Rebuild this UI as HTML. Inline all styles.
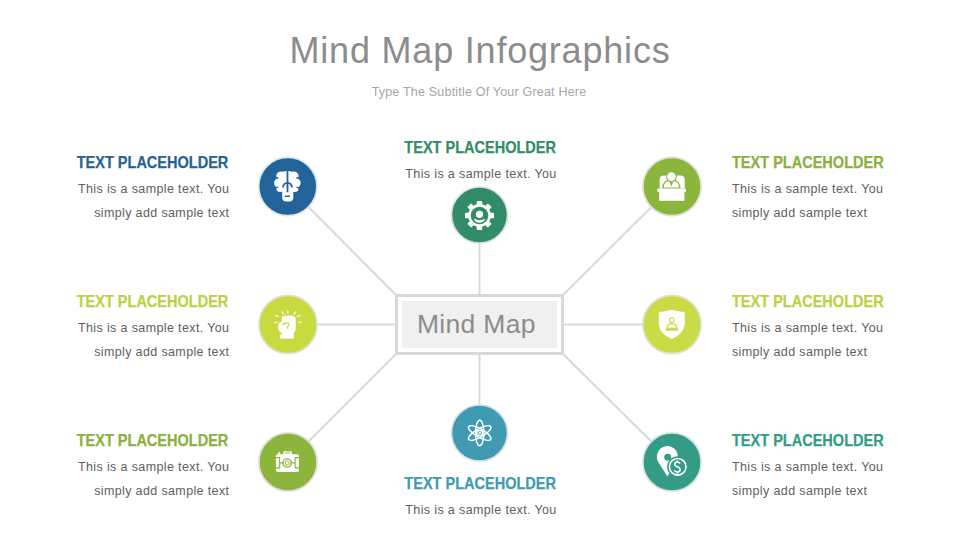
<!DOCTYPE html>
<html><head><meta charset="utf-8">
<style>
html,body{margin:0;padding:0;background:#fff;}
body{width:960px;height:540px;position:relative;overflow:hidden;font-family:"Liberation Sans",sans-serif;}
.abs{position:absolute;white-space:nowrap;}
.title{left:0;width:960px;text-align:center;top:30px;font-size:36px;line-height:42px;color:#8c8c8c;letter-spacing:0.8px;}
.sub{left:-1px;width:960px;text-align:center;top:85px;font-size:12.5px;line-height:14px;color:#a6a6a6;letter-spacing:0.2px;}
.h{font-weight:700;font-size:16.5px;line-height:18px;}
.h span{display:inline-block;transform:scaleX(0.88);-webkit-text-stroke:0.25px currentColor;}
.L span{transform-origin:100% 50%;}
.R span{transform-origin:0 50%;}
.C span{transform-origin:50% 50%;}
.b{font-size:12.5px;line-height:24px;color:#606060;letter-spacing:0.37px;}
.L{text-align:right;width:300px;}
.R{text-align:left;width:300px;}
.C{text-align:center;width:300px;}
svg.lines{position:absolute;left:0;top:0;}
</style></head><body>
<div class="abs title">Mind Map Infographics</div>
<div class="abs sub">Type The Subtitle Of Your Great Here</div>

<svg class="lines" width="960" height="540" viewBox="0 0 960 540">
  <g stroke="#d9d9d9" stroke-width="2" fill="none">
    <line x1="288" y1="186.5" x2="396" y2="295"/>
    <line x1="288" y1="324.5" x2="396" y2="324.5"/>
    <line x1="288" y1="462" x2="396" y2="354"/>
    <line x1="479.5" y1="215" x2="479.5" y2="295"/>
    <line x1="479.5" y1="354" x2="479.5" y2="433"/>
    <line x1="672" y1="186.5" x2="563" y2="295"/>
    <line x1="672" y1="324.5" x2="563" y2="324.5"/>
    <line x1="672" y1="462" x2="563" y2="354"/>
  </g>
  <rect x="396.5" y="295.5" width="166" height="58" fill="#fff" stroke="#d9d9d9" stroke-width="3"/>
  <rect x="402" y="301" width="155" height="47" fill="#f0f0f0"/>
  <g stroke-width="1.7">
    <circle cx="287.8" cy="186.5" r="29.1" fill="#22649a" stroke="#dde4ea"/>
    <circle cx="288" cy="324.5" r="29.1" fill="#c8da40" stroke="#dfe1da"/>
    <circle cx="288" cy="462" r="29.1" fill="#8db53e" stroke="#dde1d9"/>
    <circle cx="479.5" cy="215" r="28" fill="#328c69" stroke="#d9e2dd"/>
    <circle cx="479.5" cy="433" r="28" fill="#409bb2" stroke="#d9e2e6"/>
    <circle cx="672" cy="186.5" r="29.1" fill="#8db53e" stroke="#dde1d9"/>
    <circle cx="672" cy="324.5" r="29.1" fill="#cadb46" stroke="#dfe1da"/>
    <circle cx="672" cy="462" r="29.1" fill="#349b87" stroke="#d9e2df"/>
  </g>

  <!-- brain -->
  <g fill="#fff">
    <ellipse cx="287.4" cy="181.6" rx="10.5" ry="10.6"/>
    <circle cx="281.2" cy="176.4" r="5"/><circle cx="293.6" cy="176.4" r="5"/><circle cx="287.4" cy="176.6" r="5.9"/>
    <circle cx="278.6" cy="183" r="4.5"/><circle cx="296.2" cy="183" r="4.5"/>
    <circle cx="280.2" cy="188" r="4"/><circle cx="294.6" cy="188" r="4"/>
    <path d="M282.2 190 L293.3 190 L293.3 197.6 Q293.3 201.6 289.3 201.6 L286.2 201.6 Q282.2 201.6 282.2 197.6 Z"/>
  </g>
  <g stroke="#22649a" fill="none" stroke-width="1.8">
    <line x1="287.5" y1="169" x2="287.5" y2="192.3"/>
    <path d="M283 187.4 A4.5 4.5 0 0 1 292 187.4"/>
    <path d="M273.5 176.6 L278.4 178.3 M273.5 188.6 L278.2 187.1 M301.3 176.6 L296.4 178.3 M301.3 188.6 L296.6 187.1" stroke-width="1.5"/>
  </g>
  <rect x="284.8" y="195.5" width="5.2" height="1.5" fill="#22649a"/>

  <!-- fist -->
  <g stroke="#fff" stroke-width="1.3" stroke-linecap="round" opacity="0.85">
    <path d="M287.8 310.6 L287.8 313.4 M282 311.8 L283.6 314.4 M295.6 311.8 L294 314.4 M275.4 315.4 L278.4 316.6 M300.2 315.4 L297.2 316.6 M274.4 322.3 L277.2 322.3 M298.4 322.3 L301 322.3"/>
  </g>
  <g fill="#fff">
    <path d="M281.8 317.6 Q282.3 315.6 284.2 316.3 Q285.5 314.8 287.3 315.9 Q289 314.6 290.6 316 Q292.5 315 293.6 316.6 Q295.7 316.6 295.7 318.6 L295.7 329 Q295.7 331.6 293.8 333.2 L293.8 335 L281.8 335 L281.8 333.2 Q277.9 330.6 277.9 326.6 Q277.9 322.6 281.8 321.6 Z"/>
    <rect x="280" y="334.6" width="13.8" height="4"/>
  </g>
  <path d="M282.4 325 Q285 322.4 288.2 323.2 Q289.6 324.2 288 326.2 L287 328.4" stroke="#c8da40" stroke-width="1.3" fill="none"/>

  <!-- camera -->
  <g fill="#fff">
    <rect x="275.9" y="454.2" width="23" height="17.8" rx="1.8"/>
    <rect x="283.3" y="451.3" width="8.6" height="4" rx="1"/>
    <path d="M277.5 454.6 L279.1 451.3 L280.7 454.6 Z"/>
  </g>
  <g stroke="#8db53e" fill="none" stroke-width="1.1">
    <path d="M275.8 457.6 L279.6 457.6 L279.6 467.9 L275.8 467.9 M299 457.6 L295.2 457.6 L295.2 467.9 L299 467.9 M279.6 462.9 L283.1 462.9 M291.3 462.9 L295.2 462.9"/>
    <circle cx="287.2" cy="463" r="4.1" stroke-width="1.4"/>
    <circle cx="287.2" cy="463" r="2" stroke-width="1"/>
    <path d="M284.6 452.9 L290.6 452.9" stroke-width="0.9"/>
  </g>

  <!-- gear -->
  <g fill="#fff" transform="translate(479.5 215.5)">
    <circle r="11.4"/>
    <rect x="-2.7" y="-14.5" width="5.4" height="6" rx="0.8"/>
    <rect x="-2.7" y="-14.5" width="5.4" height="6" rx="0.8" transform="rotate(45)"/>
    <rect x="-2.7" y="-14.5" width="5.4" height="6" rx="0.8" transform="rotate(90)"/>
    <rect x="-2.7" y="-14.5" width="5.4" height="6" rx="0.8" transform="rotate(135)"/>
    <rect x="-2.7" y="-14.5" width="5.4" height="6" rx="0.8" transform="rotate(180)"/>
    <rect x="-2.7" y="-14.5" width="5.4" height="6" rx="0.8" transform="rotate(225)"/>
    <rect x="-2.7" y="-14.5" width="5.4" height="6" rx="0.8" transform="rotate(270)"/>
    <rect x="-2.7" y="-14.5" width="5.4" height="6" rx="0.8" transform="rotate(315)"/>
    <circle r="8.8" fill="#328c69"/>
    <circle cx="0" cy="-1.2" r="3.6"/>
    <path d="M-5.6 3 Q0 6.6 5.6 3 Q4.6 7.2 0 7.2 Q-4.6 7.2 -5.6 3 Z"/>
  </g>

  <!-- atom -->
  <g stroke="#fff" fill="none" stroke-width="1.4" transform="translate(479.7 433)">
    <ellipse rx="4.2" ry="12.8"/>
    <ellipse rx="4.2" ry="12.8" transform="rotate(60)"/>
    <ellipse rx="4.2" ry="12.8" transform="rotate(-60)"/>
    <ellipse rx="3" ry="2.5"/>
    <ellipse rx="1.4" ry="0.9" fill="#fff" stroke="none"/>
  </g>

  <!-- podium -->
  <g fill="#fff">
    <path d="M659.6 188.4 L659.6 180 Q659.6 175.6 664 175.6 L680.3 175.6 Q684.7 175.6 684.7 180 L684.7 188.4 Z"/>
  </g>
  <path d="M663 188.2 Q663 180.9 669.2 180.3 L673.6 180.3 Q679.8 180.9 679.8 188.2 Z" fill="#fff" stroke="#8db53e" stroke-width="1.3"/>
  <path d="M669.2 180.6 L673.6 180.6 L671.4 186.8 Z" fill="#8db53e"/>
  <circle cx="671.4" cy="176.6" r="4.9" fill="#fff" stroke="#8db53e" stroke-width="1.1"/>
  <g fill="#fff">
    <rect x="657.3" y="188.6" width="28.6" height="3.4"/>
    <rect x="659.2" y="191.6" width="25.2" height="9.2"/>
  </g>

  <!-- shield -->
  <path d="M658.8 312 Q665.5 311.8 671.8 309.8 Q678 311.8 684.7 312 L684.7 324 Q684.2 333.5 671.8 339 Q659.3 333.5 658.8 324 Z" fill="#fff"/>
  <g stroke="#cadb46" fill="none" stroke-width="1.2">
    <circle cx="671.8" cy="320.1" r="2.3"/>
    <path d="M666.7 330 Q666.7 323.6 671.8 323.6 Q677 323.6 677 330 Z"/>
  </g>
  <rect x="666.1" y="327.8" width="11.5" height="2.8" fill="#cadb46"/>

  <!-- pin dollar -->
  <path d="M658.43 462.25 A10.6 10.6 0 1 1 676.37 462.25 L667.4 476.5 Z" fill="#fff"/>
  <circle cx="667.7" cy="457.2" r="3.5" fill="#349b87"/>
  <circle cx="677.7" cy="466.8" r="10.6" fill="#349b87"/>
  <circle cx="677.7" cy="466.8" r="8.3" fill="none" stroke="#fff" stroke-width="1.6"/>
  <path d="M680 463.6 Q679.4 462 677.3 462 Q674.7 462 674.7 464.3 Q674.7 466.1 677.3 466.8 Q680.1 467.6 680.1 469.8 Q680.1 472 677.3 472 Q675.1 472 674.4 470.4 M677.4 460.4 L677.4 462 M677.4 472 L677.4 473.8" fill="none" stroke="#fff" stroke-width="1.6"/>
</svg>

<div class="abs" style="left:417px;top:309px;font-size:26.5px;line-height:30px;color:#8c8c8c;letter-spacing:0.3px;">Mind Map</div>

<!-- left column -->
<div class="abs L h" style="left:-72px;top:153px;color:#266292;"><span>TEXT PLACEHOLDER</span></div>
<div class="abs L b" style="left:-70.6px;top:177px;">This is a sample text. You<br>simply add sample text</div>
<div class="abs L h" style="left:-72px;top:292px;color:#bfcf45;"><span>TEXT PLACEHOLDER</span></div>
<div class="abs L b" style="left:-70.6px;top:316px;">This is a sample text. You<br>simply add sample text</div>
<div class="abs L h" style="left:-72px;top:431px;color:#8bb040;"><span>TEXT PLACEHOLDER</span></div>
<div class="abs L b" style="left:-70.6px;top:455px;">This is a sample text. You<br>simply add sample text</div>

<!-- right column -->
<div class="abs R h" style="left:732px;top:153px;color:#8bb040;"><span>TEXT PLACEHOLDER</span></div>
<div class="abs R b" style="left:732px;top:177px;">This is a sample text. You<br>simply add sample text</div>
<div class="abs R h" style="left:732px;top:292px;color:#bfcf45;"><span>TEXT PLACEHOLDER</span></div>
<div class="abs R b" style="left:732px;top:316px;">This is a sample text. You<br>simply add sample text</div>
<div class="abs R h" style="left:732px;top:431px;color:#349b87;"><span>TEXT PLACEHOLDER</span></div>
<div class="abs R b" style="left:732px;top:455px;">This is a sample text. You<br>simply add sample text</div>

<!-- middle -->
<div class="abs C h" style="left:330px;top:138px;color:#328c69;"><span>TEXT PLACEHOLDER</span></div>
<div class="abs C b" style="left:331px;top:162px;">This is a sample text. You</div>
<div class="abs C h" style="left:330px;top:474px;color:#409bb2;"><span>TEXT PLACEHOLDER</span></div>
<div class="abs C b" style="left:331px;top:498px;">This is a sample text. You</div>

</body></html>
